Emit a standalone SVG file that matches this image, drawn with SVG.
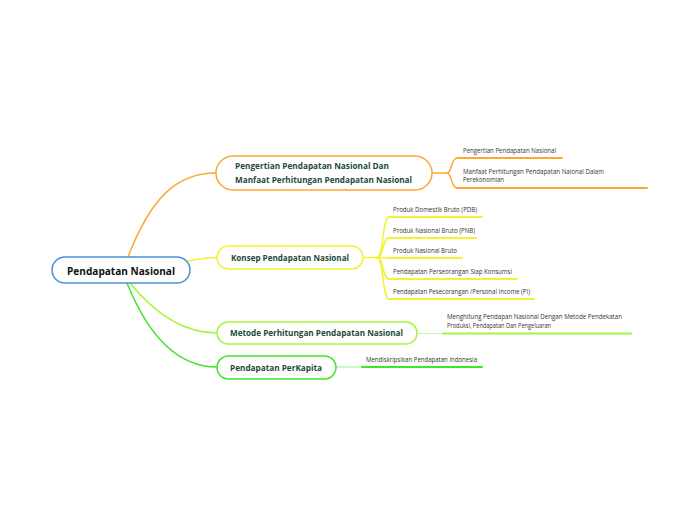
<svg xmlns="http://www.w3.org/2000/svg" width="697" height="520" viewBox="0 0 697 520">
<style>
.bg{fill:#ffffff}
.conn{fill:none;stroke-width:1.5;stroke-linecap:round}
.ul{fill:none;stroke-width:2;stroke-linecap:round}
.node{fill:#ffffff;stroke-width:1.5}
.main{font-family:"Open Sans","Noto Sans","Liberation Sans",sans-serif;font-weight:bold;font-size:11px;fill:#111111}
.br{font-family:"Open Sans","Noto Sans","Liberation Sans",sans-serif;font-weight:bold;font-size:8.8px;fill:#1d4b3a}
.sub{font-family:"Open Sans","Noto Sans","Liberation Sans",sans-serif;font-size:6.5px;fill:#333333}
.o{stroke:#ffa733}
.y{stroke:#f2f22e}
.lg{stroke:#a6f53c}
.g{stroke:#3ee62a}
</style>
<rect class="bg" x="0" y="0" width="697" height="520"/>
<g id="connectors">
  <path class="conn o" d="M128,257 C150,200 175,173 216,173"/>
  <path class="conn y" d="M188,261 C200,259 205,257.5 217,257.5"/>
  <path class="conn lg" d="M130,283 C160,320 190,333 217,333"/>
  <path class="conn g" d="M127,283 C150,340 180,367 217,367"/>
  <path class="conn o" d="M432,173 L447,173 C452,173 451,158 457,158"/>
  <path class="conn o" d="M447,173 C452,173 451,188 457,188"/>
  <path class="ul o" d="M457,158 L562,158"/>
  <path class="ul o" d="M457,188 L647,188"/>
  <path class="conn y" d="M363,257.5 L377,257.5 C384,257.5 382,217 389,217"/>
  <path class="conn y" d="M377,257.5 C384,257.5 382,238 389,238"/>
  <path class="conn y" d="M377,257.5 C384,257.5 382,258 389,258"/>
  <path class="conn y" d="M377,257.5 C384,257.5 382,279 389,279"/>
  <path class="conn y" d="M377,257.5 C384,257.5 382,299 389,299"/>
  <path class="ul y" d="M389,217 L482,217"/>
  <path class="ul y" d="M389,238 L476,238"/>
  <path class="ul y" d="M389,258 L462,258"/>
  <path class="ul y" d="M389,279 L517,279"/>
  <path class="ul y" d="M389,299 L534,299"/>
  <path class="conn lg" d="M417,333.5 L443,333.5" style="stroke-width:1;stroke:#c9f79a"/>
  <path class="ul lg" d="M443,333.5 L631,333.5"/>
  <path class="conn g" d="M336,367 L362,367" style="stroke-width:1;stroke:#9cef92"/>
  <path class="ul g" d="M362,367 L482,367"/>
</g>
<g id="central">
  <rect class="node" x="52" y="257" width="138" height="26" rx="13" style="stroke:#4a93d6"/>
  <text class="main" x="121" y="274.5" text-anchor="middle" textLength="108" lengthAdjust="spacingAndGlyphs">Pendapatan Nasional</text>
</g>
<g id="node-pengertian">
  <rect class="node o" x="216" y="156" width="216" height="34" rx="17"/>
  <text class="br" x="235" y="169" textLength="154" lengthAdjust="spacingAndGlyphs">Pengertian Pendapatan Nasional Dan</text>
  <text class="br" x="235" y="183" textLength="177" lengthAdjust="spacingAndGlyphs">Manfaat Perhitungan Pendapatan Nasional</text>
</g>
<g id="node-konsep">
  <rect class="node y" x="217" y="246" width="146" height="23" rx="11.5"/>
  <text class="br" x="231" y="260.5" textLength="118" lengthAdjust="spacingAndGlyphs">Konsep Pendapatan Nasional</text>
</g>
<g id="node-metode">
  <rect class="node lg" x="217" y="322" width="200" height="22" rx="11"/>
  <text class="br" x="230" y="336" textLength="173" lengthAdjust="spacingAndGlyphs">Metode Perhitungan Pendapatan Nasional</text>
</g>
<g id="node-perkapita">
  <rect class="node g" x="217" y="356" width="119" height="23" rx="11.5"/>
  <text class="br" x="230" y="370.5" textLength="92" lengthAdjust="spacingAndGlyphs">Pendapatan PerKapita</text>
</g>
<g id="sub-pengertian">
  <text class="sub" x="463" y="153" textLength="93" lengthAdjust="spacingAndGlyphs">Pengertian Pendapatan Nasional</text>
</g>
<g id="sub-manfaat">
  <text class="sub" x="463" y="174" textLength="141" lengthAdjust="spacingAndGlyphs">Manfaat Perhitungan Pendapatan Naional Dalam</text>
  <text class="sub" x="463" y="182" textLength="41" lengthAdjust="spacingAndGlyphs">Perekonomian</text>
</g>
<g id="sub-pdb">
  <text class="sub" x="393" y="212" textLength="84" lengthAdjust="spacingAndGlyphs">Produk Domestik Bruto (PDB)</text>
</g>
<g id="sub-pnb">
  <text class="sub" x="393" y="233" textLength="82" lengthAdjust="spacingAndGlyphs">Produk Nasional Bruto (PNB)</text>
</g>
<g id="sub-pnbruto">
  <text class="sub" x="393" y="253" textLength="64" lengthAdjust="spacingAndGlyphs">Produk Nasional Bruto</text>
</g>
<g id="sub-siap">
  <text class="sub" x="393" y="274" textLength="119" lengthAdjust="spacingAndGlyphs">Pendapatan Perseorangan Siap Konsumsi</text>
</g>
<g id="sub-pi">
  <text class="sub" x="393" y="294" textLength="137" lengthAdjust="spacingAndGlyphs">Pendapatan Pesecorangan /Personal Income (PI)</text>
</g>
<g id="sub-metode">
  <text class="sub" x="447" y="319" textLength="175" lengthAdjust="spacingAndGlyphs">Menghitung Pendapan Nasional Dengan Metode Pendekatan</text>
  <text class="sub" x="447" y="327.5" textLength="104" lengthAdjust="spacingAndGlyphs">Produksi, Pendapatan Dan Pengeluaran</text>
</g>
<g id="sub-perkapita">
  <text class="sub" x="366" y="361.5" textLength="111" lengthAdjust="spacingAndGlyphs">Mendiskripsikan Pendapatan Indonesia</text>
</g>
</svg>
